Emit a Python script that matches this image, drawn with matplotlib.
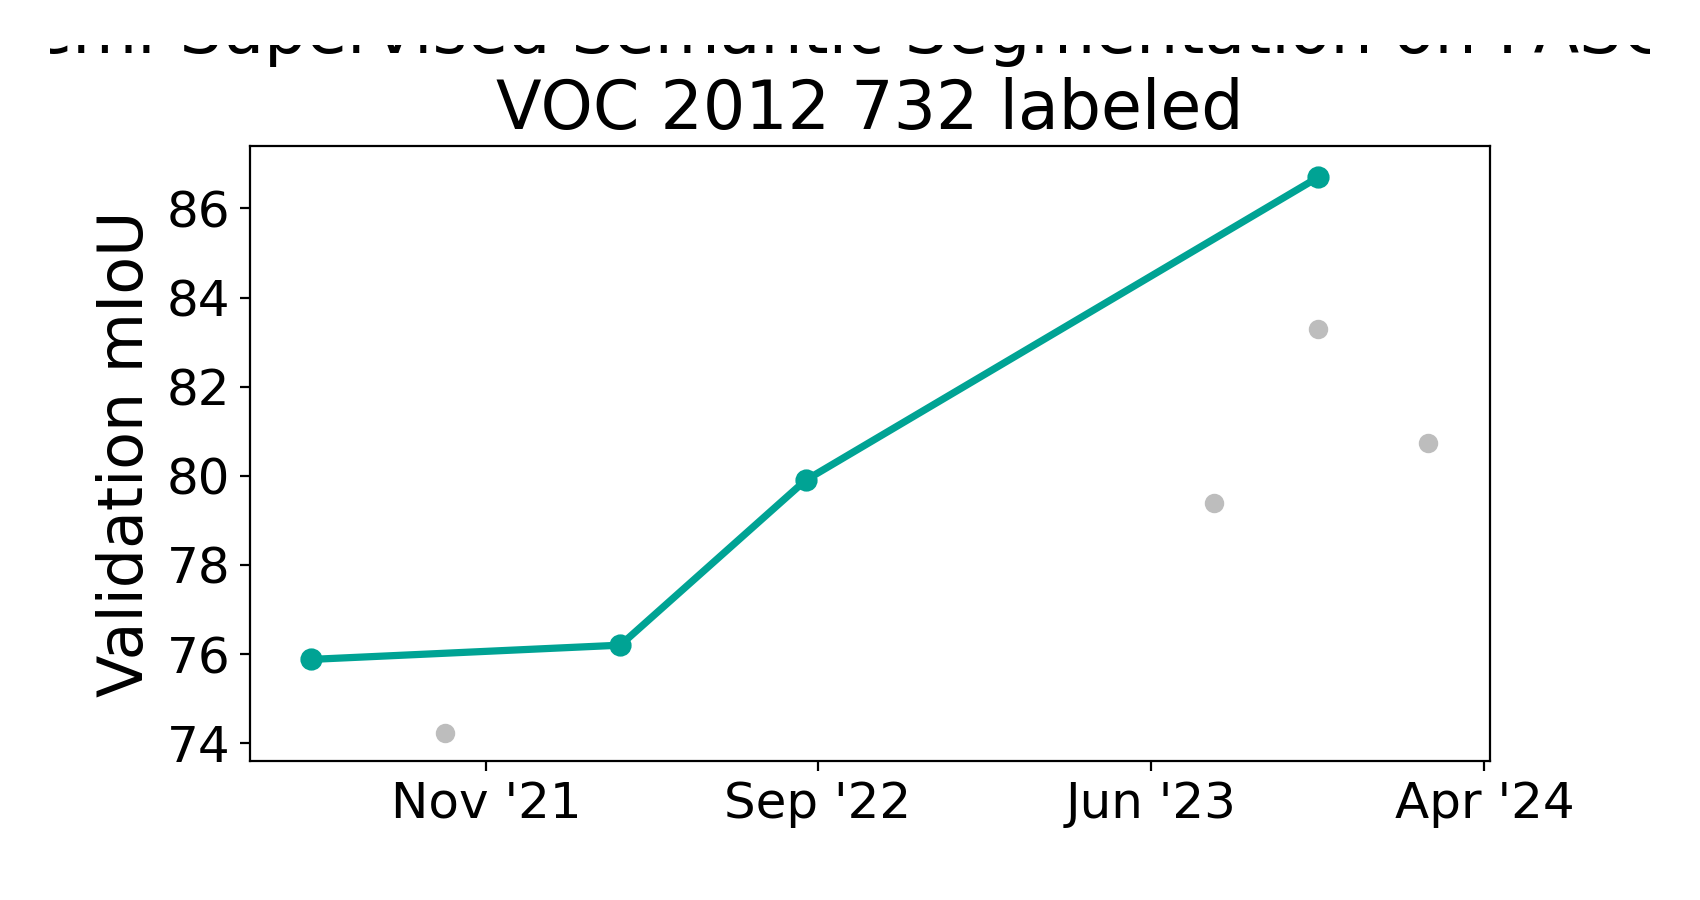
import matplotlib
matplotlib.use("Agg")
import matplotlib.pyplot as plt
from matplotlib.transforms import Bbox, TransformedBbox
import pandas as pd

# SOTA progression (teal line)
sota_dates = ["2021-06-12", "2022-03-13", "2022-08-24", "2023-11-21"]
sota_miou = [75.88, 76.2, 79.9, 86.7]

# other methods (gray dots)
other_dates = ["2021-10-09", "2023-08-21", "2023-11-21", "2024-02-26"]
other_miou = [74.24, 79.4, 83.3, 80.74]

# x tick positions and labels
tick_dates = ["2021-11-14", "2022-09-04", "2023-06-26", "2024-04-16"]
tick_labels = ["Nov '21", "Sep '22", "Jun '23", "Apr '24"]

title = "Semi-Supervised Semantic Segmentation on PASCAL\nVOC 2012 732 labeled"

teal = "#00A394"
gray = "#BDBDBD"

fig = plt.figure(figsize=(8.5, 4.5), dpi=200)
ax = fig.add_axes([0.147, 0.1544, 0.8765 - 0.147, 0.8378 - 0.1544])

sd = pd.to_datetime(sota_dates)
od = pd.to_datetime(other_dates)
td = pd.to_datetime(tick_dates)

ax.plot(od, other_miou, "o", color=gray, markersize=6, zorder=2, linestyle="none")
ax.plot(sd, sota_miou, "-o", color=teal, linewidth=2.6, markersize=7, zorder=3)

ax.set_xticks(td)
ax.set_xticklabels(tick_labels)
ax.set_xlim(pd.Timestamp("2021-04-19"), pd.Timestamp("2024-04-21"))
ax.set_ylim(73.6, 87.4)
ax.set_yticks([74, 76, 78, 80, 82, 84, 86])
ax.tick_params(labelsize=18)
ax.set_ylabel("Validation mIoU", fontsize=22.3)
t = ax.set_title(title, fontsize=24)
t.set_clip_box(TransformedBbox(Bbox([[50 / 1700, 0.0], [1650 / 1700, 1 - 45 / 900]]),
                               fig.transFigure))
t.set_clip_on(True)

fig.savefig("out.png", dpi=200)
